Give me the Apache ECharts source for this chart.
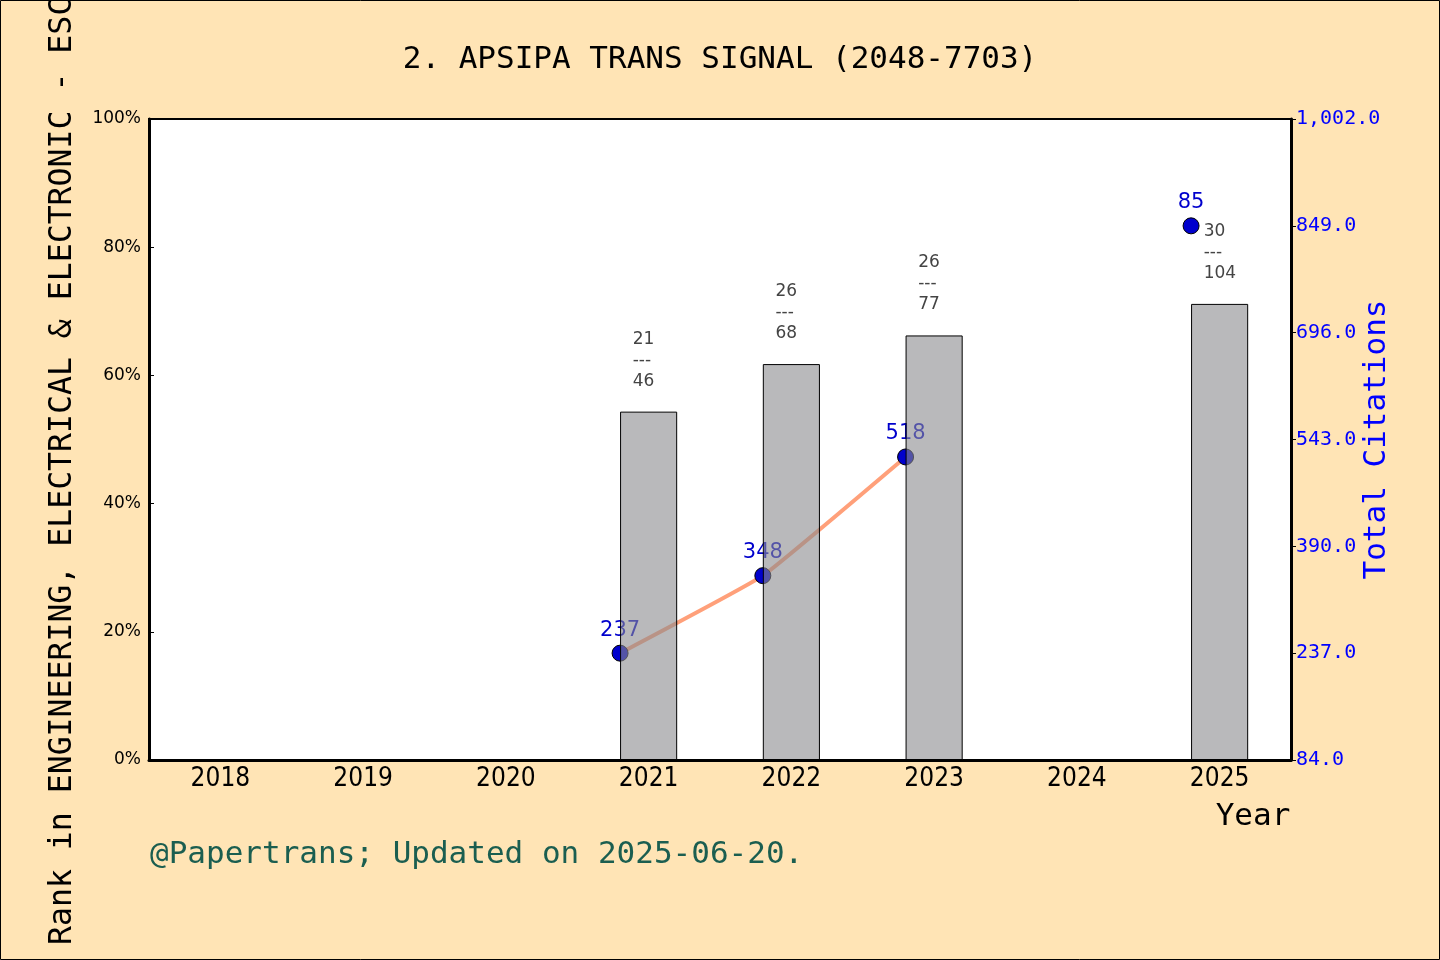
<!DOCTYPE html>
<html>
<head>
<meta charset="utf-8">
<script src="https://cdn.jsdelivr.net/npm/echarts@6/dist/echarts.min.js"></script>
<style>
  html, body { margin: 0; padding: 0; background: #ffe4b5; }
  #main { width: 1440px; height: 960px; }
</style>
</head>
<body>
<div id="main"></div>
<script>
const years = ['2018', '2019', '2020', '2021', '2022', '2023', '2024', '2025'];
// journal rank / number of journals in category (null = not listed)
const rankPos = [null, null, null, 21, 26, 26, null, 30];
const rankTotal = [null, null, null, 46, 68, 77, null, 104];
// total citations per year
const citeYears = [2021, 2022, 2023];
const citeValues = [237, 348, 518];
// current partial year
const partialYear = [2025];
const partialPos = [849];
const partialLabel = [85];

const mono = 'DejaVu Sans Mono';

const barData = years.map((y, i) =>
  rankPos[i] == null ? null : 1 - rankPos[i] / rankTotal[i]);

const option = {
  backgroundColor: '#ffe4b5',
  animation: false,
  title: {
    text: '2. APSIPA TRANS SIGNAL (2048-7703)',
    left: 'center',
    top: 39,
    textStyle: { fontFamily: mono, fontSize: 31, fontWeight: 'normal', color: '#000' }
  },
  grid: {
    left: 149, right: 149, top: 119, bottom: 200,
    show: true, backgroundColor: '#fff', borderColor: '#000', borderWidth: 2
  },
  xAxis: [
    {
      type: 'category',
      data: years,
      axisLine: { lineStyle: { color: '#000', width: 3 } },
      axisTick: { inside: true, length: 5, lineStyle: { color: '#000' } },
      axisLabel: { fontFamily: 'DejaVu Sans Condensed', fontSize: 26, color: '#000', margin: 6 }
    },
    {
      type: 'value', min: 2017.7, max: 2025.7, show: false
    }
  ],
  yAxis: [
    {
      type: 'value', min: 0, max: 1, interval: 0.2,
      axisLine: { show: true, lineStyle: { color: '#000', width: 3 } },
      axisTick: { show: true, inside: true, length: 5, lineStyle: { color: '#000' } },
      splitLine: { show: false },
      axisLabel: {
        fontFamily: 'DejaVu Sans', fontSize: 17, color: '#000', margin: 8,
        formatter: v => Math.round(v * 100) + '%'
      }
    },
    {
      type: 'value', min: 84, max: 1002, interval: 153,
      position: 'right',
      name: 'Total Citations',
      nameLocation: 'middle',
      nameGap: 70,
      nameMoveOverlap: false,
      nameTextStyle: { fontFamily: mono, fontSize: 31, color: '#0000ff' },
      axisLine: { show: true, lineStyle: { color: '#000', width: 3 } },
      axisTick: { show: true, length: 5, lineStyle: { color: '#000' } },
      splitLine: { show: false },
      axisLabel: {
        fontFamily: mono, fontSize: 20, color: '#0000ff', margin: 5,
        formatter: v => v.toLocaleString('en-US', { minimumFractionDigits: 1, maximumFractionDigits: 1 })
      }
    }
  ],
  graphic: [
    {
      type: 'rect', shape: { x: 0.5, y: 0.5, width: 1439, height: 959 },
      style: { fill: 'none', stroke: '#000', lineWidth: 1 }, silent: true
    },
    {
      type: 'text', x: 63, y: 945, rotation: Math.PI / 2,
      style: {
        text: 'Rank in ENGINEERING, ELECTRICAL & ELECTRONIC - ESCI',
        font: '31.5px "DejaVu Sans Mono"', fill: '#000',
        textAlign: 'left', textVerticalAlign: 'middle'
      }
    },
    {
      type: 'text', x: 1253, y: 817,
      style: {
        text: 'Year', font: '31px "DejaVu Sans Mono"', fill: '#000',
        textAlign: 'center', textVerticalAlign: 'middle'
      }
    },
    {
      type: 'text', x: 150, y: 855,
      style: {
        text: '@Papertrans; Updated on 2025-06-20.',
        font: '31px "DejaVu Sans Mono"', fill: '#1b5e50',
        textAlign: 'left', textVerticalAlign: 'middle'
      }
    }
  ],
  series: [
    {
      type: 'line',
      xAxisIndex: 1, yAxisIndex: 1,
      z: 2,
      smooth: 0.1,
      data: citeYears.map((y, i) => [y, citeValues[i]]),
      symbol: 'circle', symbolSize: 16,
      lineStyle: { color: '#ffa07a', width: 4 },
      itemStyle: { color: '#0000cd', borderColor: '#000', borderWidth: 1 },
      label: {
        show: true, position: 'top', distance: 4,
        fontFamily: 'DejaVu Sans', fontSize: 21, color: '#0000cd',
        formatter: p => p.value[1]
      }
    },
    {
      type: 'scatter',
      xAxisIndex: 1, yAxisIndex: 1,
      z: 2,
      data: partialYear.map((y, i) => [y, partialPos[i], partialLabel[i]]),
      symbol: 'circle', symbolSize: 16,
      itemStyle: { color: '#0000cd', borderColor: '#000', borderWidth: 1, opacity: 1 },
      label: {
        show: true, position: 'top', distance: 4,
        fontFamily: 'DejaVu Sans', fontSize: 21, color: '#0000cd',
        formatter: p => p.value[2]
      }
    },
    {
      type: 'bar',
      z: 3,
      data: barData,
      barWidth: '40%',
      itemStyle: { color: 'rgba(138,139,142,0.6)', borderColor: '#000', borderWidth: 1 },
      label: {
        show: true, position: 'top', distance: 20, align: 'left', offset: [-16, 0],
        fontFamily: 'DejaVu Sans', fontSize: 17, lineHeight: 21, color: '#444',
        formatter: p => rankPos[p.dataIndex] + '\n---\n' + rankTotal[p.dataIndex]
      }
    }
  ]
};

const chart = echarts.init(document.getElementById('main'));
chart.setOption(option);
</script>
</body>
</html>
